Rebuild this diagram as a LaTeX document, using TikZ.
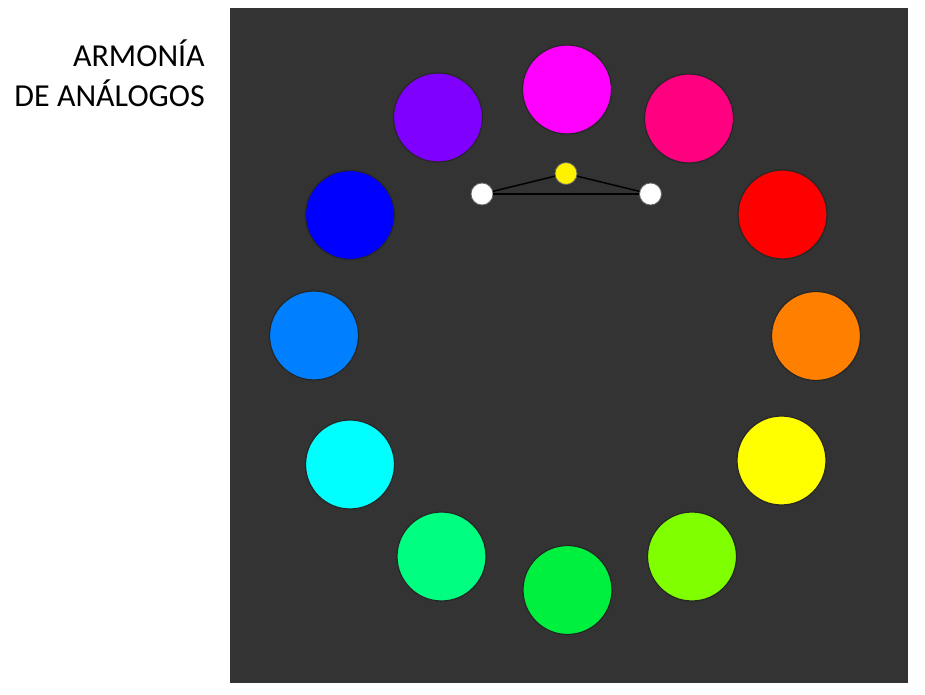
\documentclass[tikz,border=0pt]{standalone}
\usepackage{fontspec}
\setmainfont{Carlito}
\definecolor{panel}{HTML}{333333}
\definecolor{violeta}{HTML}{8000FF}
\definecolor{azul}{HTML}{0000FF}
\definecolor{celeste}{HTML}{0080FF}
\definecolor{cian}{HTML}{00FFFF}
\definecolor{turquesa}{HTML}{00FF80}
\definecolor{verde}{HTML}{00F040}
\definecolor{lima}{HTML}{80FF00}
\definecolor{amarillo}{HTML}{FFFF00}
\definecolor{naranja}{HTML}{FF8000}
\definecolor{rojo}{HTML}{FF0000}
\definecolor{rosa}{HTML}{FF0080}
\definecolor{magenta}{HTML}{FF00FF}
\tikzset{disc/.style=
  {circle,draw=black!85,line width=0.9pt,minimum size=66.75pt,inner sep=0pt
}}
\tikzset{dot/.style=
  {circle,draw=black!60,line width=0.6pt,minimum size=16.5pt,inner sep=0pt
}}

\begin{document}
\begin{tikzpicture}[x=0.75pt,y=-0.75pt]
\useasboundingbox (0,0) rectangle (925,695);
\fill[panel] (230,8) rectangle (908,683);
\node[font=\fontsize{24}{29.3}\selectfont,align=right,anchor=north east,inner sep=0pt]
  (titulo) at (205,40) {ARMONÍA\\DE ANÁLOGOS};
% rueda de colores
\node[disc,fill=magenta]  (mag) at (567,89.5) {};
\node[disc,fill=rosa]     (ros) at (689,118.5) {};
\node[disc,fill=rojo]     (roj) at (782.5,214.5) {};
\node[disc,fill=naranja]  (nar) at (816,336) {};
\node[disc,fill=amarillo] (ama) at (781.5,460.5) {};
\node[disc,fill=lima]     (lim) at (692,556.5) {};
\node[disc,fill=verde]    (ver) at (567.5,590) {};
\node[disc,fill=turquesa] (tur) at (441.5,556.5) {};
\node[disc,fill=cian]     (cia) at (350,464.5) {};
\node[disc,fill=celeste]  (cel) at (314,335.5) {};
\node[disc,fill=azul]     (azu) at (350,215) {};
\node[disc,fill=violeta]  (vio) at (438,117.5) {};
% triangulo
\node[dot,fill=yellow] (p) at (566,173.5) {};
\node[dot,fill=white]  (i) at (482,194) {};
\node[dot,fill=white]  (d) at (650.5,194) {};
\draw[line width=1.1pt] (i) -- (p) -- (d);
\draw[line width=1.1pt] (i) -- (d);
\end{tikzpicture}
\end{document}
